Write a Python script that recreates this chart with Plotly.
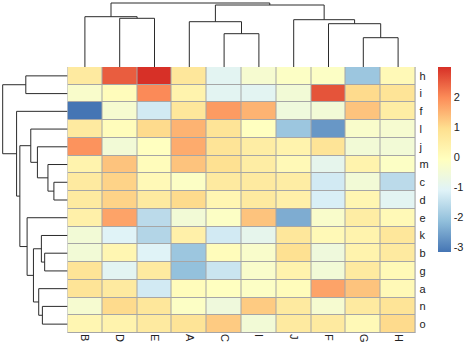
import plotly.graph_objects as go

cols = ["B", "D", "E", "A", "C", "I", "J", "F", "G", "H"]
rows = ["h", "i", "f", "l", "j", "m", "c", "d", "e", "k", "b", "g", "a", "n", "o"]

row_h = [0.6, 2.5, 3.0, 0.7, -1.0, -0.4, -0.2, -0.2, -2.0, 0.1]
row_i = [-0.3, 0.0, 2.0, 0.3, -1.0, -1.0, -0.5, 2.6, 1.0, 0.8]
row_f = [-3.17, -0.4, -1.3, 0.7, 1.8, 1.5, -0.6, -0.5, 1.3, 0.5]
row_l = [0.6, 0.0, 1.0, 1.5, 0.8, -0.1, -2.0, -2.7, -0.3, -0.4]
row_j = [1.9, -0.5, -0.1, 1.6, 0.8, 0.5, 0.3, 0.8, -0.5, -0.5]
row_m = [0.3, 1.3, 0.0, 1.3, 0.9, 0.5, 0.1, -0.9, 0.3, -0.2]
row_c = [0.6, 1.1, 0.1, -0.2, 0.6, 0.6, 0.5, -1.3, -0.5, -1.6]
row_d = [0.6, 1.1, 0.6, 1.0, 0.2, 0.6, 0.4, -1.2, 0.2, -1.0]
row_e = [0.4, 1.7, -1.6, -0.5, -0.2, 1.3, -2.4, -0.3, 0.5, 0.1]
row_k = [-0.5, -1.1, -1.7, 0.4, -1.3, -0.9, 0.7, 0.1, 0.3, 0.7]
row_b = [-0.5, 0.2, -1.1, -2.0, 0.0, -0.3, 0.9, -0.6, 0.3, 0.6]
row_g = [0.8, -1.0, 0.6, -2.1, -1.4, -0.3, 0.3, -0.5, 0.6, 0.1]
row_a = [0.8, 0.6, -1.3, 0.0, -0.1, -0.2, 0.0, 1.7, 1.3, 0.1]
row_n = [-0.4, 1.0, 0.7, -0.2, -0.6, 1.2, 0.6, -0.4, 0.6, 0.8]
row_o = [0.2, 0.3, 0.6, 0.8, 1.2, -0.5, 0.6, 0.6, 0.1, 1.0]

values = [row_h, row_i, row_f, row_l, row_j, row_m, row_c, row_d,
          row_e, row_k, row_b, row_g, row_a, row_n, row_o]

# linkage: (child_a, child_b, height); leaves are 0..n-1, merges numbered n, n+1, ...
col_linkage = [
    (8, 9, 29.3), (4, 5, 33.3), (7, 10, 43.3), (3, 11, 45.3), (6, 12, 47.3),
    (1, 2, 48.7), (0, 15, 50.3), (13, 14, 62.0), (16, 17, 64.0),
]
row_linkage = [
    (6, 7, 13.7), (5, 15, 19.7), (10, 11, 23.0), (13, 14, 25.3), (9, 17, 26.3),
    (12, 18, 29.0), (4, 16, 30.3), (19, 20, 34.3), (3, 21, 37.0), (8, 22, 40.7),
    (0, 1, 42.0), (23, 24, 48.0), (2, 26, 51.3), (25, 27, 65.3),
]

cbar_ticks = [2, 1, 0, -1, -2, -3]
palette = ["#4575B4", "#91BFDB", "#E0F3F8", "#FFFFBF", "#FEE090", "#FC8D59", "#D73027"]


def dendro_segments(linkage, n):
    pos = {i: float(i) for i in range(n)}
    hgt = {i: 0.0 for i in range(n)}
    a_pts, h_pts = [], []
    for k, (a, b, h) in enumerate(linkage):
        a_pts += [pos[a], pos[a], pos[b], pos[b], None]
        h_pts += [hgt[a], h, h, hgt[b], None]
        pos[n + k] = (pos[a] + pos[b]) / 2
        hgt[n + k] = h
    return a_pts, h_pts


W, H = 474, 355
hx0, hx1 = 67.5, 415.5
hy0, hy1 = 67.0, 333.0
zmin = min(min(r) for r in values)
zmax = max(max(r) for r in values)
n = len(palette)
colorscale = [[i / (n - 1), c] for i, c in enumerate(palette)]

fig = go.Figure()
fig.add_trace(go.Heatmap(
    z=values, x=list(range(len(cols))), y=list(range(len(rows))),
    colorscale=colorscale, zmin=zmin, zmax=zmax, xgap=1, ygap=1,
    colorbar=dict(
        x=438 / W, xanchor="left", y=1 - 67 / H, yanchor="top",
        len=(252 - 67) / H, lenmode="fraction", thickness=13,
        xpad=0, ypad=0,
        outlinewidth=0, ticks="", tickvals=cbar_ticks,
        ticktext=[str(t) for t in cbar_ticks],
        tickfont=dict(family="Liberation Sans, Arial", size=11, color="#222"),
    ),
    hoverongaps=False,
))

cx, ch = dendro_segments(col_linkage, len(cols))
fig.add_trace(go.Scatter(x=cx, y=ch, mode="lines", xaxis="x2", yaxis="y2",
                         line=dict(color="#2b2b2b", width=1), hoverinfo="skip",
                         showlegend=False))
rx, rh = dendro_segments(row_linkage, len(rows))
fig.add_trace(go.Scatter(x=rh, y=rx, mode="lines", xaxis="x3", yaxis="y3",
                         line=dict(color="#2b2b2b", width=1), hoverinfo="skip",
                         showlegend=False))

font = dict(family="Liberation Sans, Arial", size=11, color="#222")
xdom = [hx0 / W, hx1 / W]
ydom = [1 - hy1 / H, 1 - hy0 / H]
fig.update_layout(
    width=W, height=H, margin=dict(l=0, r=0, t=0, b=0, autoexpand=False),
    paper_bgcolor="white", plot_bgcolor="white", showlegend=False,
    xaxis=dict(domain=xdom, range=[-0.5, len(cols) - 0.5], tickvals=list(range(len(cols))),
               ticktext=cols, tickangle=90, tickfont=font, showgrid=False, zeroline=False,
               ticks="", ticklen=0, anchor="y", automargin=False),
    yaxis=dict(domain=ydom, range=[len(rows) - 0.5, -0.5], tickvals=list(range(len(rows))),
               ticktext=rows, side="right", tickfont=font, showgrid=False, zeroline=False,
               ticks="", anchor="x", automargin=False, ticklabelstandoff=3),
    xaxis2=dict(domain=xdom, range=[-0.5, len(cols) - 0.5], visible=False, anchor="y2"),
    yaxis2=dict(domain=[1 - hy0 / H, 1.0], range=[0, 67], visible=False, anchor="x2"),
    xaxis3=dict(domain=[0, hx0 / W], range=[68, 0], visible=False, anchor="y3"),
    yaxis3=dict(domain=ydom, range=[len(rows) - 0.5, -0.5], visible=False, anchor="x3"),
    shapes=[dict(type="rect", xref="x", yref="y", x0=-0.5, x1=len(cols) - 0.5,
                 y0=-0.5, y1=len(rows) - 0.5, fillcolor="#a6a6a6",
                 line=dict(color="#a6a6a6", width=1), layer="below")],
)

fig.write_html("out.html", config={"displayModeBar": False},
               post_script="document.body.style.margin='0px';document.body.style.overflow='hidden';")
